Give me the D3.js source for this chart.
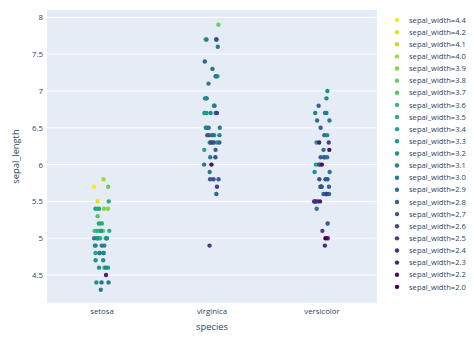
<!DOCTYPE html>
<html><head><meta charset="utf-8">
<script src="https://cdn.jsdelivr.net/npm/d3@7"></script>
<style>
body{margin:0;background:#fff}
text{font-family:"Open Sans",Verdana,Arial,sans-serif;fill:#2a3f5f}
</style>
</head><body>
<svg id="chart" width="474" height="338"></svg>
<script>
const categories = ["setosa","virginica","versicolor"];
const setosaLength = [5.1,4.9,4.7,4.6,5.0,5.4,4.6,5.0,4.4,4.9,5.4,4.8,4.8,4.3,5.8,5.7,5.4,5.1,5.7,5.1,5.4,5.1,4.6,5.1,4.8,5.0,5.0,5.2,5.2,4.7,4.8,5.4,5.2,5.5,4.9,5.0,5.5,4.9,4.4,5.1,5.0,4.5,4.4,5.0,5.1,4.8,5.1,4.6,5.3,5.0];
const setosaWidth = [3.5,3.0,3.2,3.1,3.6,3.9,3.4,3.4,2.9,3.1,3.7,3.4,3.0,3.0,4.0,4.4,3.9,3.5,3.8,3.8,3.4,3.7,3.6,3.3,3.4,3.0,3.4,3.5,3.4,3.2,3.1,3.4,4.1,4.2,3.1,3.2,3.5,3.1,3.0,3.4,3.5,2.3,3.2,3.5,3.8,3.0,3.8,3.2,3.7,3.3];
const versicolorLength = [7.0,6.4,6.9,5.5,6.5,5.7,6.3,4.9,6.6,5.2,5.0,5.9,6.0,6.1,5.6,6.7,5.6,5.8,6.2,5.6,5.9,6.1,6.3,6.1,6.4,6.6,6.8,6.7,6.0,5.7,5.5,5.5,5.8,6.0,5.4,6.0,6.7,6.3,5.6,5.5,5.5,6.1,5.8,5.0,5.6,5.7,5.7,6.2,5.1,5.7];
const versicolorWidth = [3.2,3.2,3.1,2.3,2.8,2.8,3.3,2.4,2.9,2.7,2.0,3.0,2.2,2.9,2.9,3.1,3.0,2.7,2.2,2.5,3.2,2.8,2.5,2.8,2.9,3.0,2.8,3.0,2.9,2.6,2.4,2.4,2.7,2.7,3.0,3.4,3.1,2.3,3.0,2.5,2.6,3.0,2.6,2.3,2.7,3.0,2.9,2.9,2.5,2.8];
const virginicaLength = [6.3,5.8,7.1,6.3,6.5,7.6,4.9,7.3,6.7,7.2,6.5,6.4,6.8,5.7,5.8,6.4,6.5,7.7,7.7,6.0,6.9,5.6,7.7,6.3,6.7,7.2,6.2,6.1,6.4,7.2,7.4,7.9,6.4,6.3,6.1,7.7,6.3,6.4,6.0,6.9,6.7,6.9,5.8,6.8,6.7,6.7,6.3,6.5,6.2,5.9];
const virginicaWidth = [3.3,2.7,3.0,2.9,3.0,3.0,2.5,2.9,2.5,3.6,3.2,2.7,3.0,2.5,2.8,3.2,3.0,3.8,2.6,2.2,3.2,2.8,2.8,2.7,3.3,3.2,2.8,3.0,2.8,3.0,2.8,3.8,2.8,2.8,2.6,3.0,3.4,3.1,3.0,3.1,3.1,3.1,2.7,3.2,3.3,3.0,2.5,3.0,3.4,3.0];
const widthLevels = [4.4,4.2,4.1,4.0,3.9,3.8,3.7,3.6,3.5,3.4,3.3,3.2,3.1,3.0,2.9,2.8,2.7,2.6,2.5,2.4,2.3,2.2,2.0];
const yTicks = [4.5,5,5.5,6,6.5,7,7.5,8];

const svg = d3.select("#chart");
const L = 47, R = 377, T = 10, B = 303;
svg.append("rect").attr("x",L).attr("y",T).attr("width",R-L).attr("height",B-T).attr("fill","#E5ECF6");

const x = d3.scaleBand().domain(categories).range([L,R]);
const y = d3.scaleLinear().domain([4.12,8.10]).range([B,T]);
const color = d3.scaleOrdinal().domain(widthLevels)
  .range(widthLevels.map((d,i)=>d3.interpolateViridis(1 - i/(widthLevels.length-1))));

// grid
svg.append("g").selectAll("line").data(yTicks).join("line")
  .attr("x1",L).attr("x2",R).attr("y1",d=>y(d)).attr("y2",d=>y(d))
  .attr("stroke","#fff").attr("stroke-width",1);

// axes
const yAxis = d3.axisLeft(y).tickValues(yTicks).tickSize(0).tickPadding(4).tickFormat(d3.format("~g"));
const gy = svg.append("g").attr("transform",`translate(${L},0)`).call(yAxis);
gy.select(".domain").remove();
gy.selectAll("text").attr("font-size","7.8px").style("fill","#2a3f5f");

const xAxis = d3.axisBottom(x).tickSize(0).tickPadding(5);
const gx = svg.append("g").attr("transform",`translate(0,${B})`).call(xAxis);
gx.select(".domain").remove();
gx.selectAll("text").attr("font-size","7.8px").style("fill","#2a3f5f");

svg.append("text").attr("x",(L+R)/2).attr("y",330).attr("text-anchor","middle")
  .attr("font-size","9.3px").text("species");
svg.append("text").attr("transform",`translate(19,${(T+B)/2}) rotate(-90)`).attr("text-anchor","middle")
  .attr("font-size","9.3px").text("sepal_length");

// points (traces by sepal_width, like plotly)
const rows = [];
const src = {setosa:[setosaLength,setosaWidth], virginica:[virginicaLength,virginicaWidth], versicolor:[versicolorLength,versicolorWidth]};
categories.forEach(c=>{
  const [ls,ws] = src[c];
  ls.forEach((v,i)=>rows.push({species:c, len:v, wid:ws[i]}));
});
// deterministic jitter (seeded LCG, like plotly's pseudoRandom)
let seed = 2;
function jitter(){ seed = (seed*69069 + 1) % 4294967296; return seed/4294967296; }
const half = 8;
const pts = [];
widthLevels.forEach(w=>{
  rows.filter(r=>r.wid===w).forEach(r=>{
    pts.push({...r, dx:(jitter()-0.5)*2*half});
  });
});
svg.append("g").selectAll("circle").data(pts).join("circle")
  .attr("cx",d=>x(d.species)+x.bandwidth()/2+d.dx)
  .attr("cy",d=>y(d.len))
  .attr("r",2.2)
  .attr("fill",d=>color(d.wid));

// legend
const lg = svg.append("g");
const item = lg.selectAll("g").data(widthLevels).join("g")
  .attr("transform",(d,i)=>`translate(397,${20+i*12.13})`);
item.append("circle").attr("r",2.2).attr("fill",d=>color(d));
item.append("text").attr("x",12).attr("dy","0.35em").attr("font-size","7.6px").text(d=>"sepal_width="+d.toFixed(1));
</script>
</body></html>
